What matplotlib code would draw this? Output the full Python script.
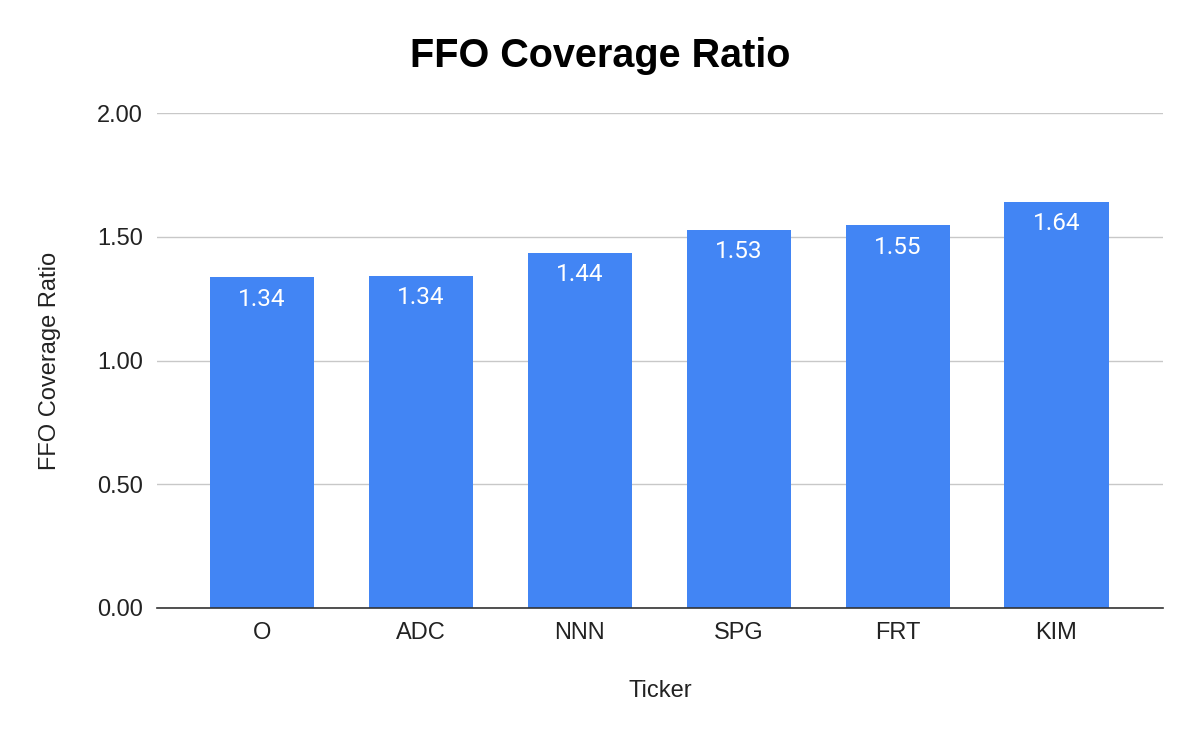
import matplotlib.pyplot as plt

plt.rcParams['font.family'] = ['Liberation Sans', 'DejaVu Sans']

# data
tickers = ['O', 'ADC', 'NNN', 'SPG', 'FRT', 'KIM']
coverage = [1.336, 1.343, 1.436, 1.528, 1.546, 1.642]
y_ticks = [0.0, 0.5, 1.0, 1.5, 2.0]

bar_color = '#4285f4'

fig = plt.figure(figsize=(12, 7.42), dpi=100)
ax = fig.add_axes([157 / 1200, 1 - 608 / 742, 1006 / 1200, 495 / 742])

x = list(range(len(tickers)))
bars = ax.bar(x, coverage, width=0.655, color=bar_color, zorder=3)

# value labels inside the top of each bar
for rect, v in zip(bars, coverage):
    ax.annotate('%.2f' % v, (rect.get_x() + rect.get_width() / 2, v),
                xytext=(0, -22), textcoords='offset pixels',
                ha='center', va='center', color='white', fontsize=17.5,
                family=['Roboto', 'DejaVu Sans'], zorder=4)

ax.set_xlim(-0.66, 5.67)
ax.set_ylim(0, 2.0)
ax.set_yticks(y_ticks)
ax.set_yticklabels(['%.2f' % t for t in y_ticks])
ax.set_xticks(x)
ax.set_xticklabels(tickers)

ax.grid(axis='y', color='#c8c8c8', linewidth=1, zorder=0)
for s in ['top', 'right', 'left']:
    ax.spines[s].set_visible(False)
ax.spines['bottom'].set_color('#333333')
ax.spines['bottom'].set_linewidth(1.2)
ax.spines['bottom'].set_zorder(5)
ax.tick_params(axis='both', length=0, labelsize=17, colors='#222222')
ax.tick_params(axis='x', pad=10)
ax.tick_params(axis='y', pad=10)

ax.set_xlabel('Ticker', fontsize=17, color='#222222', labelpad=26)
ax.set_ylabel('FFO Coverage Ratio', fontsize=17, color='#222222', labelpad=26)

fig.text(0.5, 1 - 56 / 742, 'FFO Coverage Ratio', ha='center', va='center',
         fontsize=28.5, fontweight='bold', color='#000000')

fig.savefig('out.png', dpi=100, facecolor='white')
